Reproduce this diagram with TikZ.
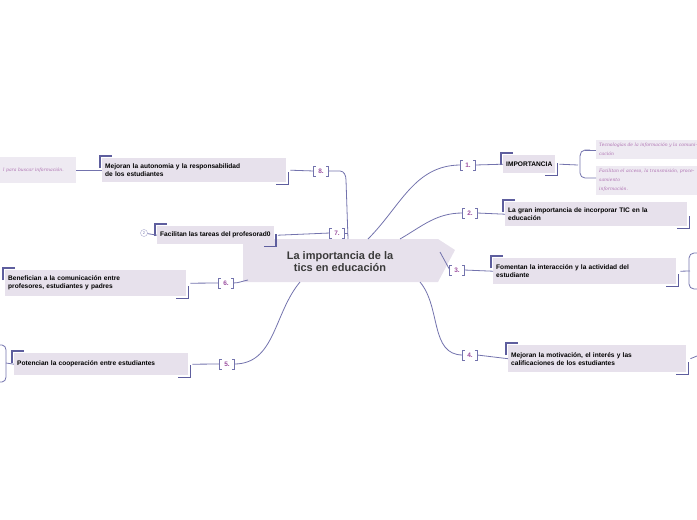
\documentclass[tikz,border=0pt]{standalone}
\usepackage{fontspec}
\setmainfont{Liberation Sans}
\newfontfamily\scriptf{DejaVu Serif}
\definecolor{ln}{HTML}{7373AD}
\definecolor{br}{HTML}{5E5E9E}
\definecolor{bx}{HTML}{E7E1EC}
\definecolor{num}{HTML}{9A4E9E}
\definecolor{ttl}{HTML}{3A3A3A}
\begin{document}
\begin{tikzpicture}[x=1pt,y=1pt,
  box/.style={fill=bx,anchor=north west,inner sep=3pt,font=\fontsize{6.6}{8}\selectfont\bfseries,align=left,minimum height=#1},
  box/.default=18pt,
  sub/.style={fill=bx!70,anchor=north west,inner sep=3pt,font=\scriptf\itshape\fontsize{4.5}{9}\selectfont,text=num!80,align=left},
  numl/.style={font=\fontsize{6.5}{8}\selectfont\bfseries,text=num,inner sep=2pt,minimum width=14pt},
  con/.style={draw=ln,line width=0.8pt},
  cor/.style={draw=br,line width=1.6pt},
  brk/.style={draw=ln,line width=0.8pt}]
\useasboundingbox (0,0) rectangle (697,-520);
% central
\fill[bx] (243,-239) -- (438,-239) -- (455,-250) -- (438,-282) -- (243,-282) -- cycle;
\node[font=\fontsize{11}{12}\selectfont\bfseries,text=ttl,align=center] (c) at (340,-262) {La importancia de la\\tics en educación};
\coordinate (cT) at (348,-239);
\coordinate (cR) at (440,-252);
% helper for brackets
\newcommand\lbl[3]{\node[numl] (#1) at (#2) {#3};
  \draw[brk] ([shift={(2,5)}]#1.west) -| ([shift={(0,-5)}]#1.west) -- ++(2,0);
  \draw[brk] ([shift={(-2,5)}]#1.east) -| ([shift={(0,-5)}]#1.east) -- ++(-2,0);}
\newcommand\crn[1]{\draw[cor] ([shift={(-2,-10)}]#1.north west) |- ([shift={(10,2)}]#1.north west);
  \draw[cor] ([shift={(2,10)}]#1.south east) |- ([shift={(-10,-2)}]#1.south east);}
% right
\lbl{n1}{468,-165}{1.}
\node[box] (b1) at (503,-155) {IMPORTANCIA};\crn{b1}
\node[sub,text width=110pt,minimum height=19pt] (s1) at (596,-140) {Tecnologías de la información y la comunicación};
\node[sub,text width=110pt,minimum height=26pt] (s2) at (596,-166) {Facilitan el acceso, la transmisión, procesamiento\\información.};
\draw[con] (b1.east)++(4,0) -- (578,-165);
\draw[con] (590,-150) -- (585,-150) to[out=180,in=90] (580,-156) -- (580,-173) to[out=-90,in=180] (585,-178) -- (596,-178);
\draw[con] (585,-150) -- (596,-150);
\lbl{n2}{470,-213}{2.}
\node[box,text width=176pt,minimum height=24pt] (b2) at (505,-202) {La gran importancia de incorporar TIC en la\\educación};\crn{b2}
\lbl{n3}{457,-270}{3.}
\node[box,text width=177pt,minimum height=26pt] (b3) at (493,-258) {Fomentan la interacción y la actividad del\\estudiante};\crn{b3}
\draw[con] (b3.east)++(4,0) -- (690,-271);
\draw[con] (697,-253) -- (694,-253) to[out=180,in=90] (689,-258) -- (689,-284) to[out=-90,in=180] (694,-289) -- (697,-289);
\lbl{n4}{470,-355}{4.}
\node[box,text width=172pt,minimum height=27pt] (b4) at (508,-345) {Mejoran la motivación, el interés y las\\calificaciones de los estudiantes};\crn{b4}
\draw[con] (b4.east)++(4,0) -- (697,-356);
% left
\lbl{n8}{321,-171}{8.}
\node[box,text width=178pt,minimum height=24pt] (b8) at (102,-158) {Mejoran la autonomia y la responsabilidad\\de los estudiantes};\crn{b8}
\node[sub,text width=70pt,minimum height=26pt] (s8) at (0,-157) {l para buscar información.};
\draw[con] (s8.east) -- (b8.west);
\lbl{n7}{337,-233}{7.}
\node[box] (b7) at (157,-226) {Facilitan las tareas del profesorad0};\crn{b7}
\node[circle,draw=ln!60,inner sep=0.5pt,minimum size=7pt,font=\fontsize{4}{4}\selectfont,text=ln] (k) at (144,-233) {2};
\draw[con] (k) -- (b7.west);
\lbl{n6}{226,-283}{6.}
\node[box,text width=175pt,minimum height=26pt] (b6) at (5,-270) {Benefician a la comunicación entre\\profesores, estudiantes y padres};\crn{b6}
\lbl{n5}{227,-364}{5.}
\node[box,text width=168pt,minimum height=22pt] (b5) at (14,-353) {Potencian la cooperación entre estudiantes};\crn{b5}
\draw[con] (0,-345) -- (2,-345) to[out=0,in=90] (6,-350) -- (6,-377) to[out=-90,in=0] (2,-382) -- (0,-382);
\draw[con] (6,-363) -- (b5.west);
% label to box lines
\foreach \a/\b in {n1/b1,n2/b2,n3/b3,n4/b4}{\draw[con] (\a.east) -- (\b.west);}
\foreach \a/\b in {n8/b8,n7/b7,n6/b6,n5/b5}{\draw[con] (\a.west) -- ([xshift=4]\b.east);}
% central connectors
\draw[con] (368,-239) to[out=45,in=180] (n1.west);
\draw[con] (400,-239) to[out=30,in=180] (n2.west);
\draw[con] (cR) -- (n3.west);
\draw[con] (420,-282) to[out=-50,in=180] (n4.west);
\draw[con] (n8.east) -- (340,-171) to[out=0,in=90] (346,-180) -- (cT);
\draw[con] (n7.east) -- (cT|-n7.east);
\draw[con] (n6.east) to[out=0,in=190] (248,-280);
\draw[con] (n5.east) to[out=0,in=-130] (300,-282);
\end{tikzpicture}
\end{document}
